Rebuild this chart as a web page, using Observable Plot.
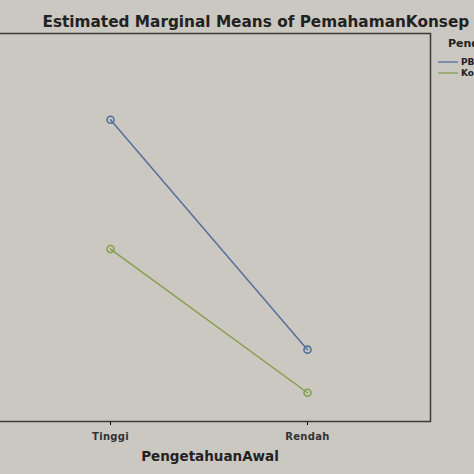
<!DOCTYPE html>
<html>
<head>
<meta charset="utf-8">
<script src="https://cdn.jsdelivr.net/npm/d3@7"></script>
<script src="https://cdn.jsdelivr.net/npm/@observablehq/plot@0.6"></script>
<style>
  html, body { margin: 0; padding: 0; background: #cbc7c1; overflow: hidden; width: 474px; height: 474px; }
  #chart { position: absolute; left: -3px; top: 0; }
</style>
</head>
<body>
<div id="chart"></div>
<script>
const categories = ["Tinggi", "Rendah"];
const seriesNames = ["PBL", "Konvensional"];
const seriesA = [80, 64];
const seriesB = [71, 61];
const yDomain = [59, 86];
const titleText = "Estimated Marginal Means of PemahamanKonsep";
const xTitle = "PengetahuanAwal";
const legendTitle = "Pendekatan";
const colors = ["#56709c", "#86a04e"];

const data = [];
categories.forEach((c, i) => {
  data.push({cat: c, series: seriesNames[0], value: seriesA[i]});
  data.push({cat: c, series: seriesNames[1], value: seriesB[i]});
});

const boldFont = "DejaVu Sans, Liberation Sans, Arial, sans-serif";

const plot = Plot.plot({
  width: 477,
  height: 474,
  marginLeft: 0,
  marginRight: 44,
  marginTop: 33,
  marginBottom: 53,
  style: {background: "transparent", fontFamily: boldFont, overflow: "visible"},
  x: {type: "point", domain: categories, range: [113, 310], padding: 0, tickSize: 4, tickPadding: 7, label: null, fontSize: 8.5},
  y: {domain: yDomain, axis: null},
  color: {domain: seriesNames, range: colors},
  marks: [
    Plot.frame({stroke: "#3a3a3a", strokeWidth: 1.5}),
    Plot.line(data, {x: "cat", y: "value", z: "series", stroke: "series", strokeWidth: 1.5}),
    Plot.dot(data, {x: "cat", y: "value", stroke: "series", r: 3.5, strokeWidth: 1.6, fill: "none"}),
    Plot.text([titleText], {frameAnchor: "top-left", dx: 45, dy: -17, text: d => d, textAnchor: "start", fontWeight: "bold", fontSize: 15.3, fill: "#222"}),
    Plot.text([xTitle], {frameAnchor: "bottom", dx: -4, dy: 39, text: d => d, fontWeight: "bold", fontSize: 13.5, fill: "#222"})
  ]
});

const svg = d3.select(plot);
svg.selectAll("g[aria-label='x-axis tick label'] text, g[aria-label='x-axis'] text")
  .attr("font-weight", "bold").attr("fill", "#333").style("letter-spacing", "0.3px");
const leg = svg.append("g").attr("font-family", boldFont).attr("font-weight", "bold").attr("fill", "#222").attr("text-anchor", "start");
leg.append("text").attr("x", 451).attr("y", 47).attr("font-size", 11).text(legendTitle);
seriesNames.forEach((s, i) => {
  const y = 62 + i * 11;
  leg.append("line").attr("x1", 441).attr("x2", 461).attr("y1", y).attr("y2", y).attr("stroke", colors[i]).attr("stroke-width", 1.3);
  leg.append("text").attr("x", 464).attr("y", y + 3).attr("font-size", 9).text(s);
});

document.getElementById("chart").appendChild(plot);
</script>
</body>
</html>
